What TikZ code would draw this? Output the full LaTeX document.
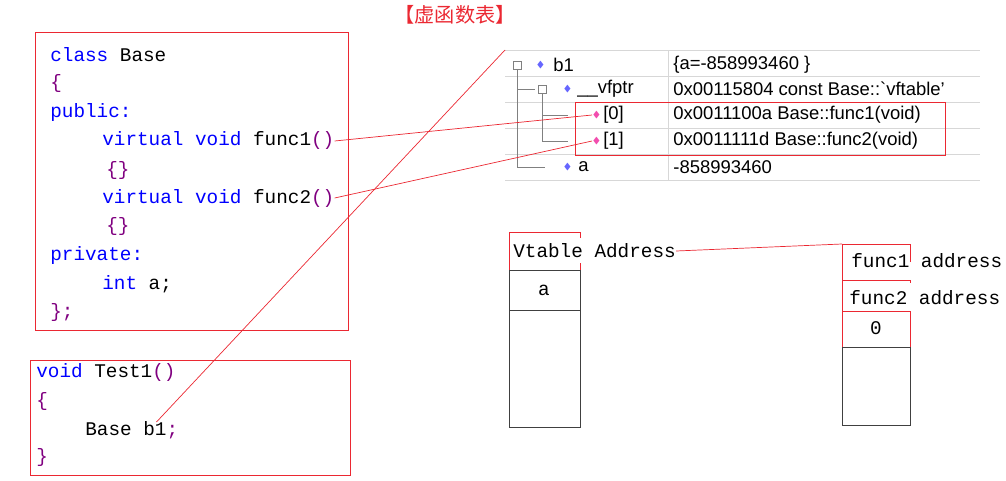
\documentclass[tikz,border=0pt]{standalone}
\usepackage{amssymb}
\usepackage{fontspec}
\setmainfont{Liberation Sans}
\setmonofont{Liberation Mono}
\newfontfamily\cjk{Noto Sans CJK SC}
\definecolor{kw}{RGB}{0,0,255}
\definecolor{br}{RGB}{128,0,128}
\definecolor{rd}{RGB}{235,40,50}
\definecolor{grid}{RGB}{215,215,215}
\begin{document}
\begin{tikzpicture}
        [x=0.02cm,y=-0.02cm,every node/.style={inner sep=0pt,anchor=west}]
        \tikzset{Code/.style={font=\ttfamily\fontsize{11}{12}\selectfont},
                 Dbg/.style={font=\fontsize{10.5}{12}\selectfont},
                 Gem/.style={font=\tiny},
                 RedBox/.style={draw=rd,thin},
                 Cell/.style={draw=black!75,thin}}
        \useasboundingbox (0,0) rectangle (1006,480);
        \node[anchor=center,text=rd,font=\cjk\fontsize{11.5}{13}\selectfont] (title) at (455,15) {【虚函数表】};
        % class box
        \draw[RedBox] (35,32) rectangle (348,330);
        \node[Code] (l1) at (50,55) {\textcolor{kw}{class} Base};
        \node[Code,text=br] (l2) at (50,84) {\{};
        \node[Code,text=kw] (l3) at (50,113) {public:};
        \node[Code] (f1) at (102,141) {\textcolor{kw}{virtual void} func1\textcolor{br}{()}};
        \node[Code,text=br] (l5) at (106,170) {\{\}};
        \node[Code] (f2) at (102,198) {\textcolor{kw}{virtual void} func2\textcolor{br}{()}};
        \node[Code,text=br] (l7) at (106,226) {\{\}};
        \node[Code,text=kw] (l8) at (50,255) {private:};
        \node[Code] (l9) at (102,284) {\textcolor{kw}{int} a;};
        \node[Code,text=br] (l10) at (50,312) {\};};
        % test box
        \draw[RedBox] (30,360) rectangle (350,475);
        \node[Code] (t1) at (36,372) {\textcolor{kw}{void} Test1\textcolor{br}{()}};
        \node[Code,text=br] (t2) at (36,401) {\{};
        \node[Code] (b1) at (85,430) {Base b1\textcolor{br}{;}};
        \node[Code,text=br] (t4) at (36,457) {\}};
        \coordinate (b1end) at ([shift={(-22,-8)}]b1.east);
        % debugger table
        \foreach \y in {50,76,102,128,154,180}
            \draw[grid] (505,\y) -- (980,\y);
        \draw[grid] (668,50) -- (668,180);
        \draw[gray] (517,65) -- (517,167) -- (545,167);
        \draw[gray] (517,89) -- (535,89);
        \draw[gray] (542,94) -- (542,141) -- (568,141);
        \draw[gray] (542,115) -- (568,115);
        \draw[gray,fill=white] (513,61) rectangle +(8,8);
        \draw[gray,fill=white] (538,85) rectangle +(8,8);
        \node[Gem,text=blue!60] (g1) at (536,65) {$\blacklozenge$};
        \node[Dbg] (rb1) at (553,65) {b1};
        \node[Gem,text=blue!60] (g2) at (563,89) {$\blacklozenge$};
        \node[Dbg] (rvf) at (577,89) {\_\_vfptr};
        \node[Gem,text=magenta!70] (g3) at (592,115) {$\blacklozenge$};
        \node[Dbg] (r0) at (603,115) {[0]};
        \node[Gem,text=magenta!70] (g4) at (592,141) {$\blacklozenge$};
        \node[Dbg] (r1) at (603,141) {[1]};
        \node[Gem,text=blue!60] (g5) at (563,167) {$\blacklozenge$};
        \node[Dbg] (ra) at (578,167) {a};
        \node[Dbg] (v1) at (673,65) {\{a=-858993460 \}};
        \node[Dbg] (v2) at (673,89) {0x00115804 const Base::\textasciigrave vftable'};
        \node[Dbg] (v3) at (673,115) {0x0011100a Base::func1(void)};
        \node[Dbg] (v4) at (673,141) {0x0011111d Base::func2(void)};
        \node[Dbg] (v5) at (673,167) {-858993460};
        \draw[RedBox] (575,102) rectangle (945,155);
        \coordinate (tbl) at (505,50);
        % pointers
        \draw[rd] (f1.east) -- (g3.west);
        \draw[rd] (f2.east) -- (g4.west);
        \draw[rd] (b1end) -- (tbl);
        % object layout
        \draw[rd] (580,238) -- (580,232) -- (509,232) -- (509,270) -- (580,270) -- (580,263);
        \draw[Cell] (509,270) rectangle (580,310);
        \draw[Cell] (509,310) rectangle (580,427);
        \node[Code] (vt) at (513,251) {Vtable Address};
        \node[Code,anchor=center] (ca) at (544,290) {a};
        % vtable layout
        \draw[rd] (910,262) -- (910,244) -- (842,244) -- (842,311);
        \draw[rd] (842,280) -- (910,280) -- (910,283);
        \draw[RedBox] (842,311) rectangle (910,347);
        \draw[Cell] (842,347) rectangle (910,425);
        \node[Code] (fa1) at (851,261) {func1 address};
        \node[Code] (fa2) at (849,298) {func2 address};
        \node[Code,anchor=center] (z) at (876,328) {0};
        \draw[rd] (vt.east) -- (842,244);
    \end{tikzpicture}
\end{document}
